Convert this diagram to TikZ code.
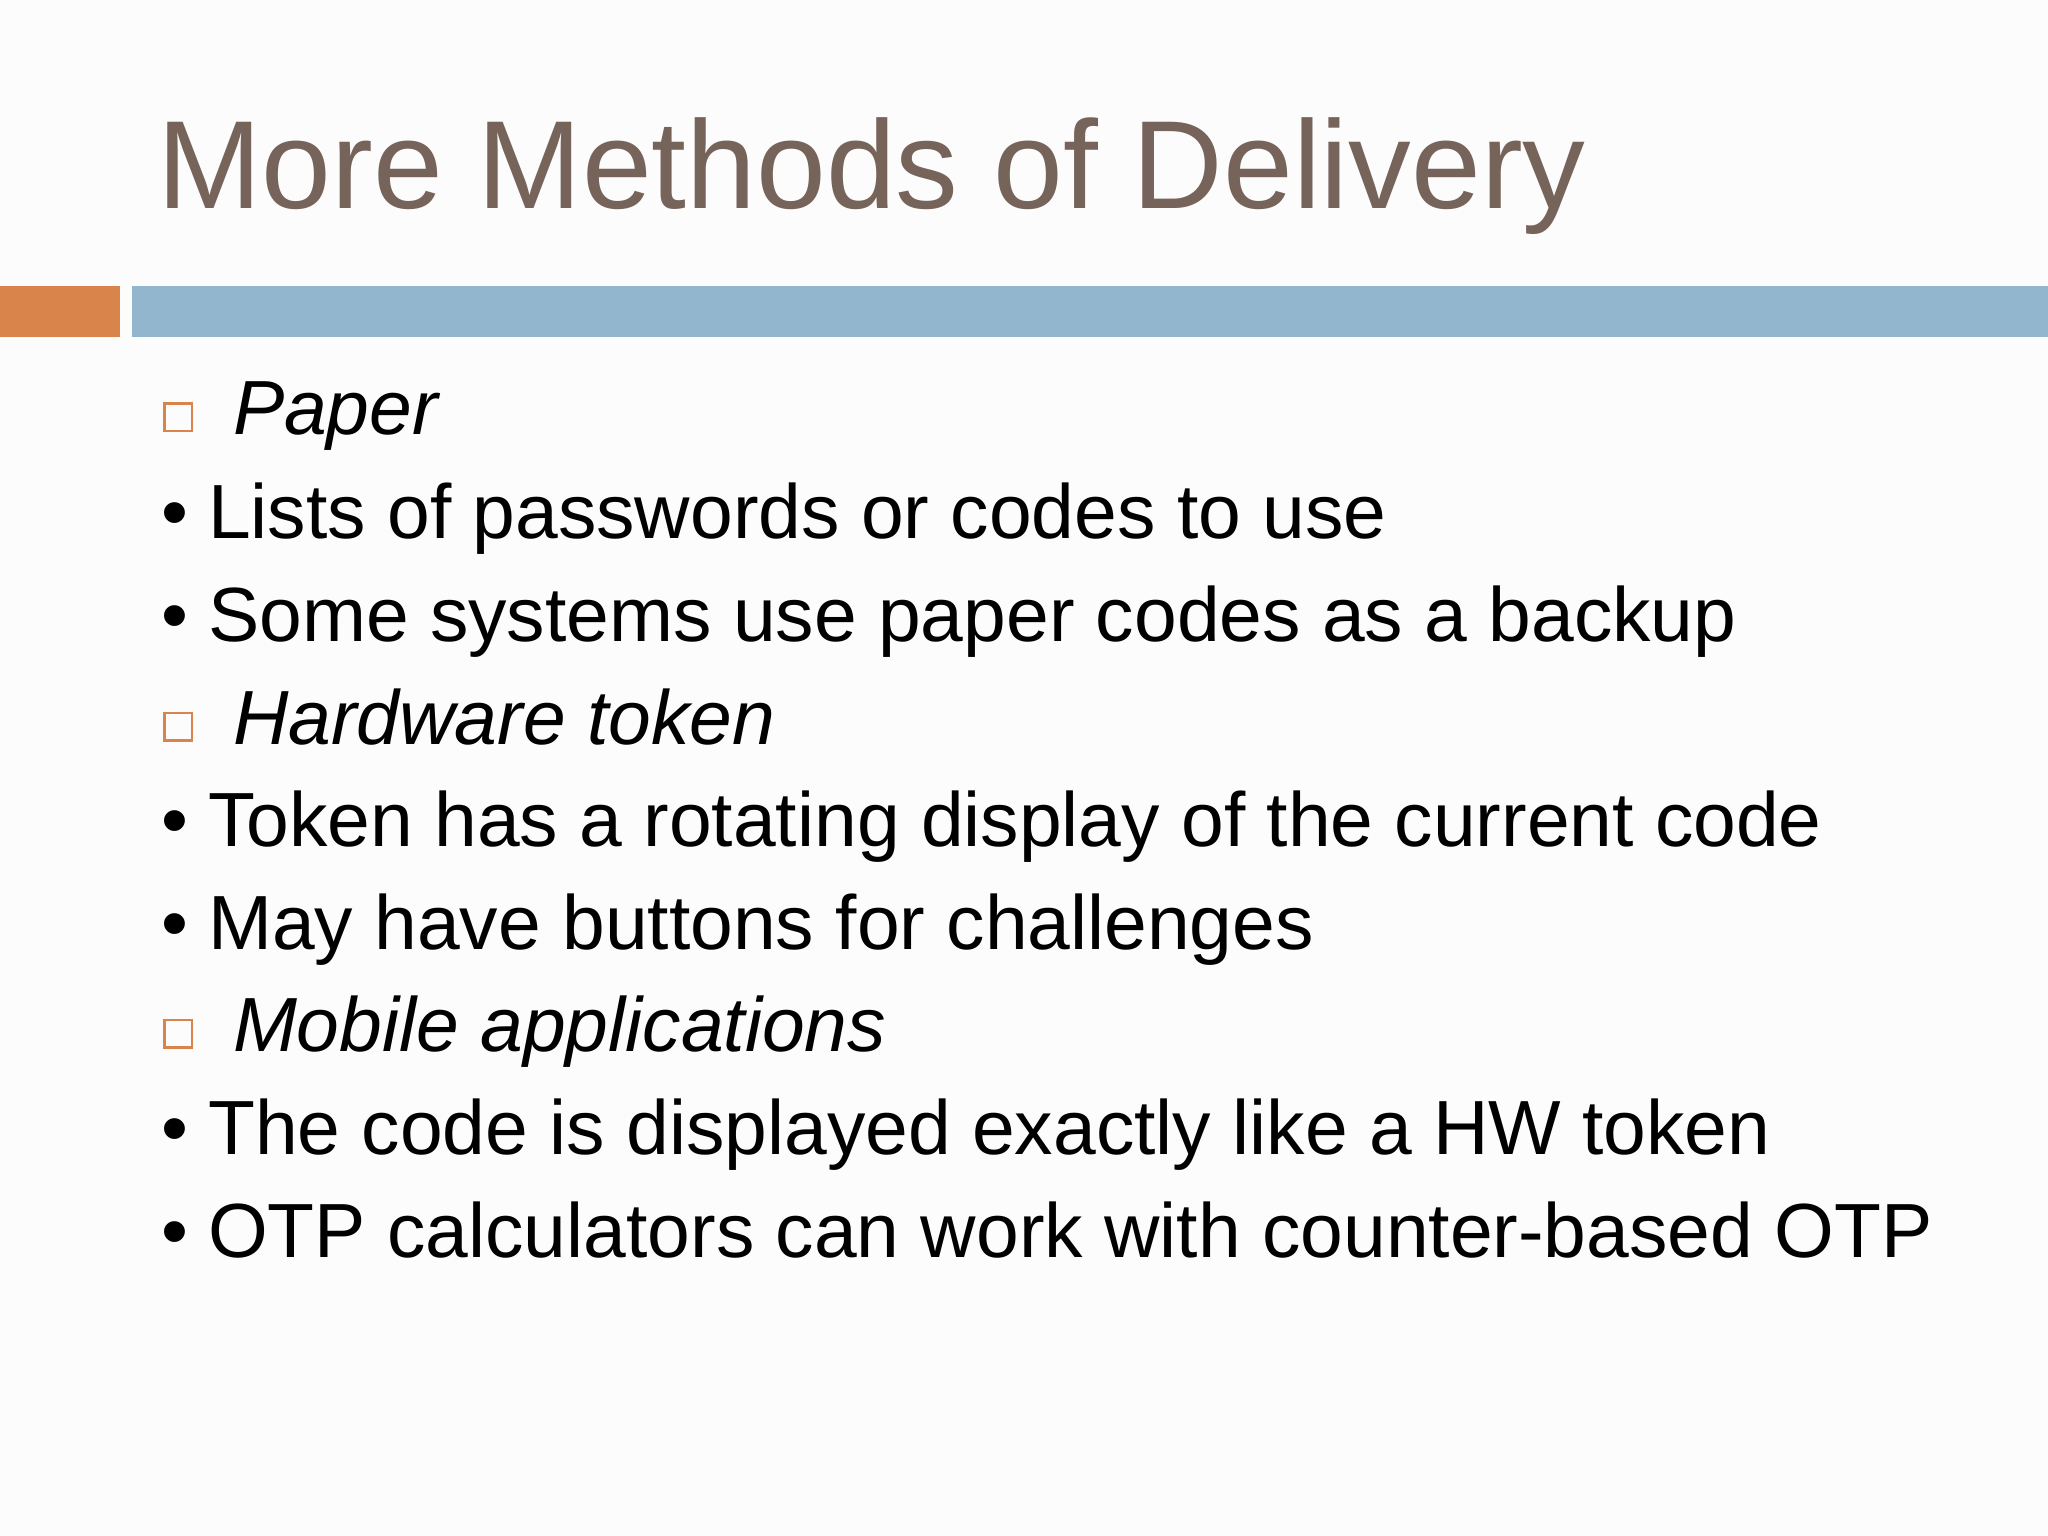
\documentclass[tikz,border=0pt]{standalone}
\usepackage{fontspec}
\setmainfont{Liberation Sans}
\definecolor{titlec}{HTML}{76645A}
\definecolor{orangec}{HTML}{D9844A}
\definecolor{bluec}{HTML}{93B6CF}
\begin{document}
\begin{tikzpicture}[x=0.5pt,y=-0.5pt,
  item/.style={anchor=base west,inner sep=0pt,font=\fontsize{29.4}{36}\selectfont},
  sq/.style={draw=orangec,line width=1pt}]
\useasboundingbox (0,0) rectangle (1568,1176);
\fill[white!98!gray] (0,0) rectangle (1568,1176);
\node[anchor=base west,inner sep=0pt,text=titlec,font=\fontsize{48}{58}\selectfont] (title) at (120,160) {More Methods of Delivery};
\fill[orangec] (0,219) rectangle (92,258);
\fill[bluec] (101,219) rectangle (1568,258);
\foreach \y/\t/\n in {333/Paper/a,570/Hardware token/b,805/Mobile applications/c}{
  \draw[sq] (126,\y-24) rectangle (147,\y-3);
  \node[item,font=\fontsize{29.4}{36}\selectfont\itshape] (h\n) at (178,\y) {\t};
}
\foreach \y/\t/\n in {412/Lists of passwords or codes to use/1,
  491/Some systems use paper codes as a backup/2,
  648/Token has a rotating display of the current code/3,
  727/May have buttons for challenges/4,
  884/The code is displayed exactly like a HW token/5,
  963/OTP calculators can work with counter-based OTP/6}{
  \node[item] (d\n) at (123,\y) {•};
  \node[item] (t\n) at (159,\y) {\t};
}
\end{tikzpicture}
\end{document}
